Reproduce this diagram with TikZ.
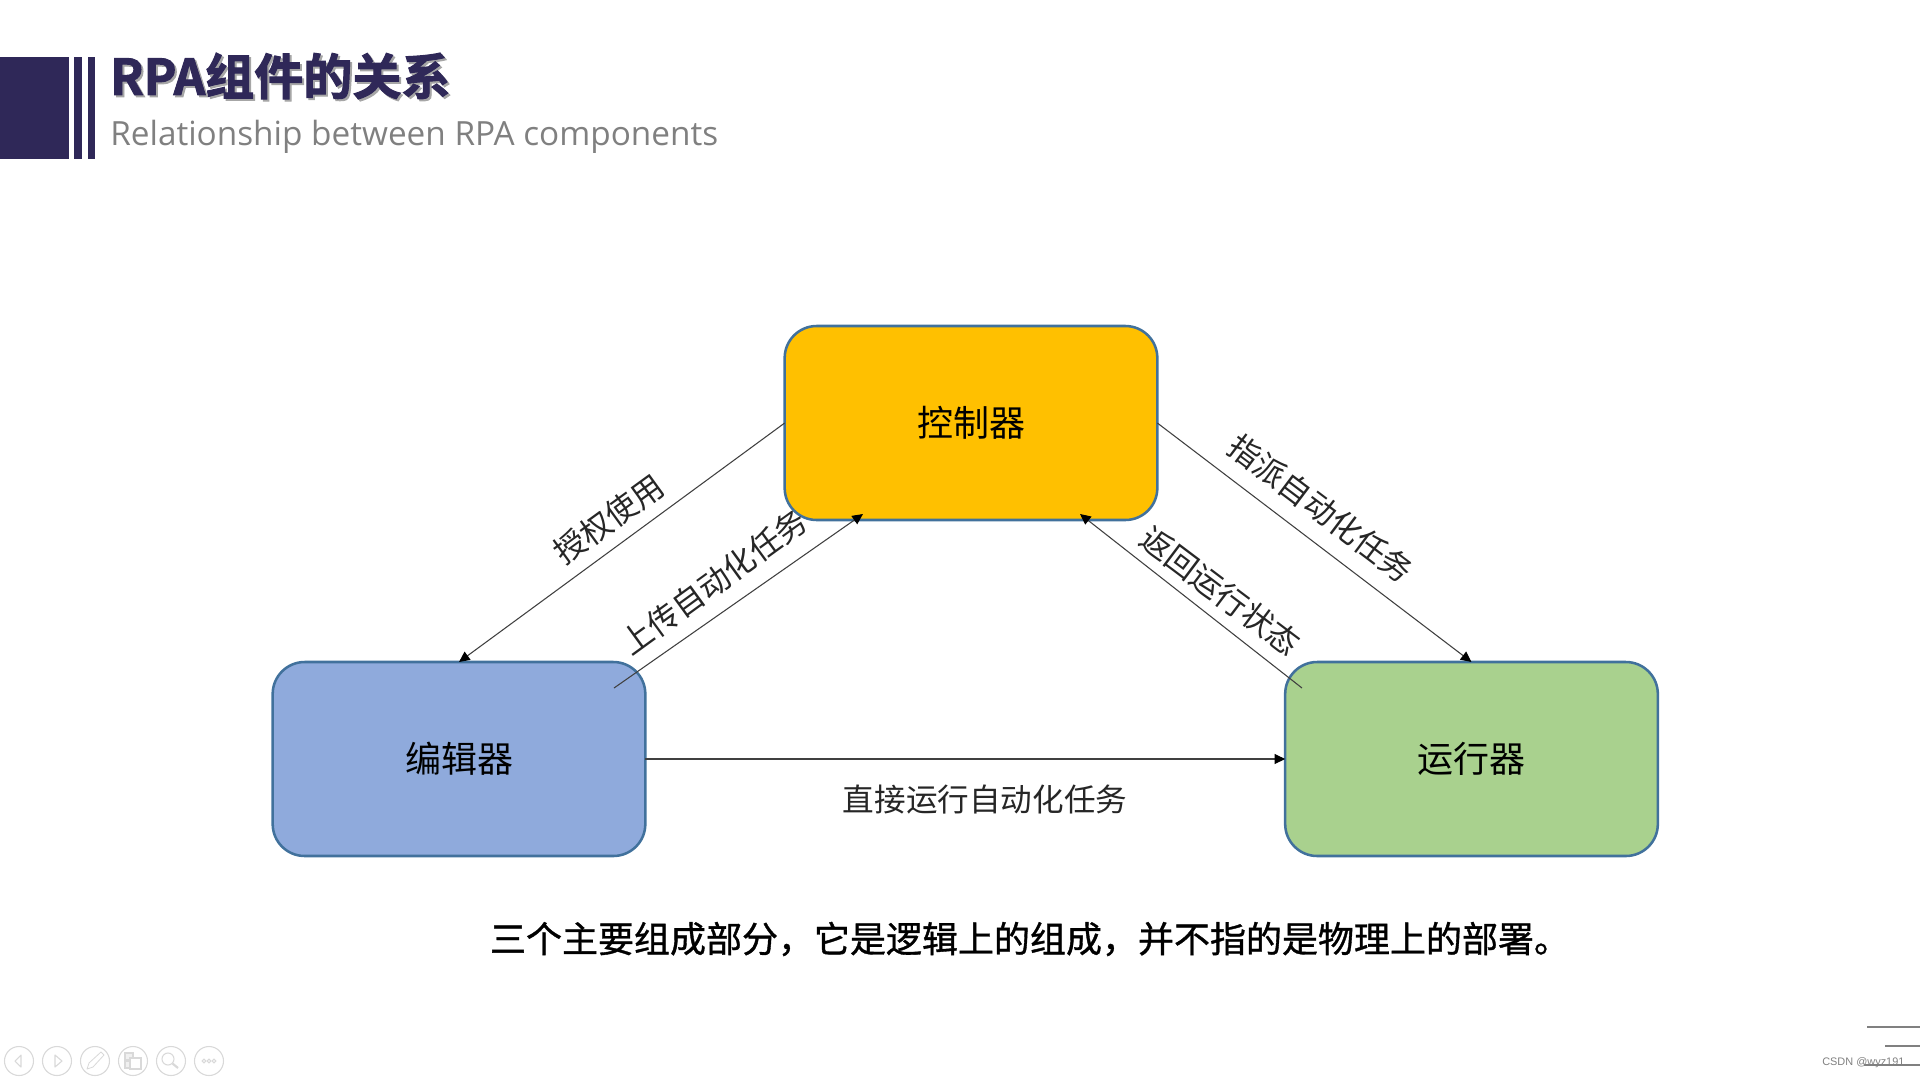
\documentclass[tikz,border=0pt]{standalone}
\usepackage{fontspec}
\usetikzlibrary{arrows.meta}
\setmainfont{Noto Sans CJK SC}
\newfontfamily\cjkfont{Noto Sans CJK SC}
\newfontfamily\titlefont[FakeBold=2]{Noto Sans CJK SC Bold}
\newfontfamily\notefont[FakeBold=1]{Noto Sans CJK SC}
\newfontfamily\subfont{Open Sans}
\newfontfamily\markfont{Liberation Sans}
\definecolor{navy}{HTML}{2F2858}
\definecolor{boxline}{HTML}{41719C}
\definecolor{ctrlfill}{HTML}{FFC000}
\definecolor{editfill}{HTML}{8FAADC}
\definecolor{runfill}{HTML}{A9D18E}
\definecolor{navgray}{HTML}{D9D9D9}
\tikzset{
  compbox/.style={draw=boxline,line width=1.9pt,rounded corners=24pt,minimum width=279.5pt,minimum height=145.5pt,outer sep=0pt,inner sep=0pt,font=\cjkfont\fontsize{27}{27}\selectfont,text=black},
  link/.style={draw=black!75,line width=0.8pt,-{Triangle[length=8pt,width=7.5pt,color=black]}},
  linklabel/.style={font=\cjkfont\fontsize{23.7}{24}\selectfont,text=black!85,inner sep=0pt},
  navring/.style={draw=navgray,line width=0.8pt,fill=white},
  navmark/.style={draw=navgray,line width=0.8pt},
  pagerule/.style={draw=gray,line width=0.8pt},
}
\begin{document}
\begin{tikzpicture}[x=0.75pt,y=-0.75pt]
\useasboundingbox (0,0) rectangle (1920,1079);
% header
\fill[navy] (0,57) rectangle (69,159);
\fill[navy] (74,57) rectangle (82,159);
\fill[navy] (87.5,57) rectangle (95,159);
\node[anchor=west,inner sep=0pt,text=black!35,font=\titlefont\fontsize{36.8}{37}\selectfont] (titleshadow) at (112,78) {RPA组件的关系};
\node[anchor=west,inner sep=0pt,text=navy,font=\titlefont\fontsize{36.8}{37}\selectfont] (title) at (110,76) {RPA组件的关系};
\node[anchor=base west,inner sep=0pt,text=black!50,font=\subfont\fontsize{25}{26}\selectfont] (subtitle) at (110,145) {Relationship between RPA components};
% boxes
\node[compbox,fill=ctrlfill] (ctrl) at (971,423) {\raisebox{1.2pt}{控制器}};
\node[compbox,fill=editfill] (edit) at (459,759) {\raisebox{0.8pt}{编辑器}};
\node[compbox,fill=runfill] (run) at (1471.5,759) {\raisebox{0.8pt}{运行器}};
% connectors
\coordinate (upfrom) at (614,688);
\coordinate (upto) at (863,514);
\coordinate (backfrom) at (1302,688);
\coordinate (backto) at (1080,514);
\draw[link] (ctrl.west) -- (edit.north);
\draw[link] (upfrom) -- (upto);
\draw[link] (ctrl.east) -- (run.north);
\draw[link] (backfrom) -- (backto);
\draw[link] (edit.east) -- (run.west);
% labels
\node[linklabel,rotate=36] (l1) at (608.6,519) {授权使用};
\node[linklabel,rotate=36] (l2) at (714,582) {上传自动化任务};
\node[linklabel,rotate=-37] (l3) at (1321,508) {指派自动化任务};
\node[linklabel,rotate=-37] (l4) at (1220,591) {返回运行状态};
\node[linklabel] (l5) at (985,800) {直接运行自动化任务};
\node[inner sep=0pt,text=black,font=\notefont\fontsize{27}{27}\selectfont] (note) at (1030,939) {三个主要组成部分，它是逻辑上的组成，并不指的是物理上的部署。};
% navigation icons
\foreach \cx in {19,57,95,133,171,209} \draw[navring] (\cx,1061) circle (14.5);
\draw[navmark,line join=round] (21,1055) -- (15,1061) -- (21,1067) -- cycle;
\draw[navmark,line join=round] (55,1055) -- (62,1061) -- (55,1067) -- cycle;
\draw[navmark,line width=0.6pt,line join=round,fill=white] (87,1069) -- (89,1063) -- (101,1052) -- (104,1055) -- (93,1067) -- cycle;
\draw[navmark,fill=navgray!40] (125,1053) rectangle (133,1060);
\draw[navmark,fill=navgray!40] (125,1061) rectangle (131,1068);
\draw[navmark,fill=white] (130,1058) rectangle (141,1069);
\draw[navmark] (168,1059) circle (6);
\draw[navmark,line width=1.6pt] (172.5,1063.5) -- (178,1068);
\foreach \dx in {204,209,214} \draw[navmark] (\dx,1061) circle (1.8);
% page corner
\coordinate (r1) at (1867,1027); \coordinate (r1e) at (1920,1027);
\coordinate (r2) at (1885,1046); \coordinate (r2e) at (1920,1046);
\coordinate (r3) at (1864,1065); \coordinate (r3e) at (1920,1065);
\draw[pagerule] (r1) -- (r1e);
\draw[pagerule] (r2) -- (r2e);
\draw[pagerule] (r3) -- (r3e);
\node[anchor=west,inner sep=0pt,text=black!50,font=\markfont\fontsize{8.2}{9}\selectfont] (mark) at (1822,1063) {CSDN @wyz191};
\end{tikzpicture}
\end{document}
